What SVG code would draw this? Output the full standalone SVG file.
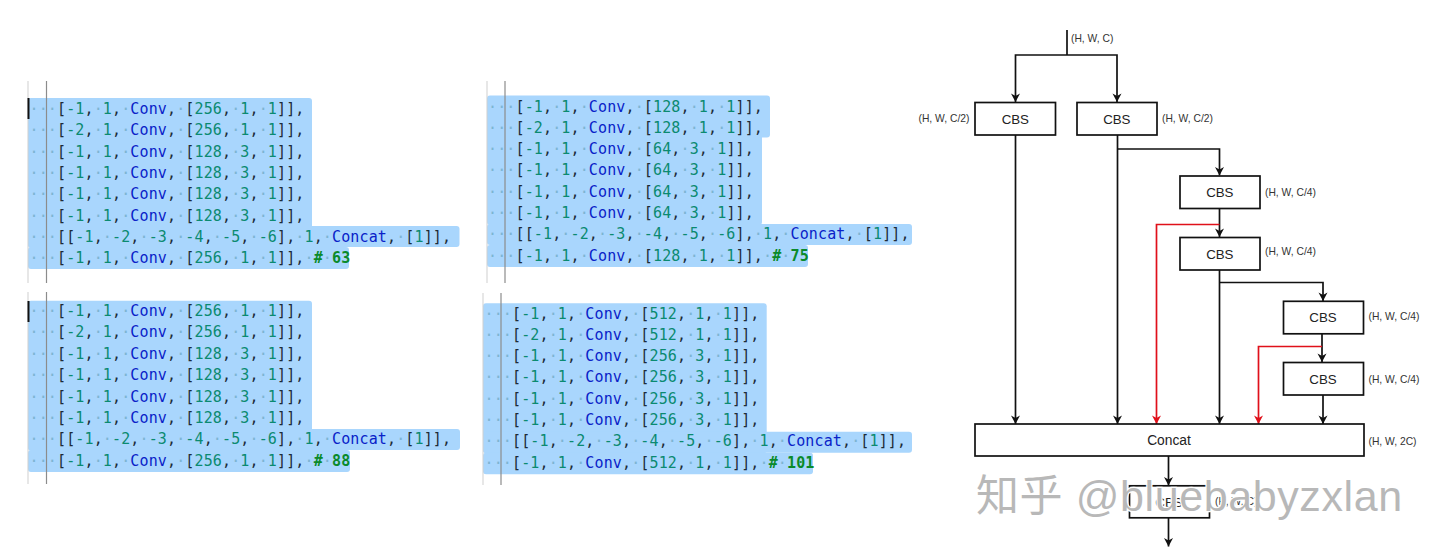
<svg xmlns="http://www.w3.org/2000/svg" width="1440" height="560" viewBox="0 0 1440 560">
<style>
.hl{fill:#a9d6fd}
.vl{stroke:#8c8c8c;stroke-width:1.2;fill:none}
.fl{stroke:#cfcfcf;stroke-width:1;fill:none}
.cur{fill:#111}
.code{font-family:"DejaVu Sans Mono","Liberation Mono",monospace;font-size:15px;letter-spacing:.13px;fill:#1d2b38}
.d{fill:#7db4d2}
.n{fill:#0b8a70}
.k{fill:#0a22c8}
.c{fill:#0a8a2a;font-weight:bold}
.box{fill:#fff;stroke:#111;stroke-width:1.7}
.w{stroke:#111;stroke-width:1.7;fill:none}
.a{marker-end:url(#ab)}
.r{stroke:#e0101a;stroke-width:1.7;fill:none}
.ra{marker-end:url(#ar)}
.t{font-family:"Liberation Sans",Arial,sans-serif;font-size:13.300px;fill:#222;text-anchor:middle}
.s{font-family:"Liberation Sans",Arial,sans-serif;font-size:10.300px;fill:#333}
.wm{font-family:"Liberation Sans","Noto Sans CJK SC",sans-serif;font-size:43px;fill:#b8b8b8;stroke:#fff;stroke-width:2.5;paint-order:stroke;letter-spacing:.6px}
</style>
<defs>
<marker id="ab" markerUnits="userSpaceOnUse" markerWidth="12" markerHeight="12" refX="9" refY="6" orient="auto"><path d="M0.500,1.500 L9,6 L0.500,10.500 L3,6 Z" fill="#111"/></marker>
<marker id="ar" markerUnits="userSpaceOnUse" markerWidth="12" markerHeight="12" refX="9" refY="6" orient="auto"><path d="M0.500,1.500 L9,6 L0.500,10.500 L3,6 Z" fill="#e0101a"/></marker>
</defs>

<g id="code-63">
<rect class="hl" x="28" y="98" width="284" height="150" rx="3"/>
<rect class="hl" x="28" y="226" width="431.500" height="21" rx="3"/>
<rect class="hl" x="28" y="247" width="321" height="22" rx="3"/>
<line class="fl" x1="28" y1="81" x2="28" y2="283"/>
<line class="vl" x1="46.500" y1="81" x2="46.500" y2="283"/>
<rect class="cur" x="27.500" y="98" width="2" height="21"/>
<text class="code" x="29.500" y="114"><tspan class="d">···</tspan>[<tspan class="n">-1</tspan>,<tspan class="d">·</tspan><tspan class="n">1</tspan>,<tspan class="d">·</tspan><tspan class="k">Conv</tspan>,<tspan class="d">·</tspan>[<tspan class="n">256</tspan>,<tspan class="d">·</tspan><tspan class="n">1</tspan>,<tspan class="d">·</tspan><tspan class="n">1</tspan>]],</text>
<text class="code" x="29.500" y="135.300"><tspan class="d">···</tspan>[<tspan class="n">-2</tspan>,<tspan class="d">·</tspan><tspan class="n">1</tspan>,<tspan class="d">·</tspan><tspan class="k">Conv</tspan>,<tspan class="d">·</tspan>[<tspan class="n">256</tspan>,<tspan class="d">·</tspan><tspan class="n">1</tspan>,<tspan class="d">·</tspan><tspan class="n">1</tspan>]],</text>
<text class="code" x="29.500" y="156.600"><tspan class="d">···</tspan>[<tspan class="n">-1</tspan>,<tspan class="d">·</tspan><tspan class="n">1</tspan>,<tspan class="d">·</tspan><tspan class="k">Conv</tspan>,<tspan class="d">·</tspan>[<tspan class="n">128</tspan>,<tspan class="d">·</tspan><tspan class="n">3</tspan>,<tspan class="d">·</tspan><tspan class="n">1</tspan>]],</text>
<text class="code" x="29.500" y="177.900"><tspan class="d">···</tspan>[<tspan class="n">-1</tspan>,<tspan class="d">·</tspan><tspan class="n">1</tspan>,<tspan class="d">·</tspan><tspan class="k">Conv</tspan>,<tspan class="d">·</tspan>[<tspan class="n">128</tspan>,<tspan class="d">·</tspan><tspan class="n">3</tspan>,<tspan class="d">·</tspan><tspan class="n">1</tspan>]],</text>
<text class="code" x="29.500" y="199.200"><tspan class="d">···</tspan>[<tspan class="n">-1</tspan>,<tspan class="d">·</tspan><tspan class="n">1</tspan>,<tspan class="d">·</tspan><tspan class="k">Conv</tspan>,<tspan class="d">·</tspan>[<tspan class="n">128</tspan>,<tspan class="d">·</tspan><tspan class="n">3</tspan>,<tspan class="d">·</tspan><tspan class="n">1</tspan>]],</text>
<text class="code" x="29.500" y="220.500"><tspan class="d">···</tspan>[<tspan class="n">-1</tspan>,<tspan class="d">·</tspan><tspan class="n">1</tspan>,<tspan class="d">·</tspan><tspan class="k">Conv</tspan>,<tspan class="d">·</tspan>[<tspan class="n">128</tspan>,<tspan class="d">·</tspan><tspan class="n">3</tspan>,<tspan class="d">·</tspan><tspan class="n">1</tspan>]],</text>
<text class="code" x="29.500" y="241.800"><tspan class="d">···</tspan>[[<tspan class="n">-1</tspan>,<tspan class="d">·</tspan><tspan class="n">-2</tspan>,<tspan class="d">·</tspan><tspan class="n">-3</tspan>,<tspan class="d">·</tspan><tspan class="n">-4</tspan>,<tspan class="d">·</tspan><tspan class="n">-5</tspan>,<tspan class="d">·</tspan><tspan class="n">-6</tspan>],<tspan class="d">·</tspan><tspan class="n">1</tspan>,<tspan class="d">·</tspan><tspan class="k">Concat</tspan>,<tspan class="d">·</tspan>[<tspan class="n">1</tspan>]],</text>
<text class="code" x="29.500" y="263.200"><tspan class="d">···</tspan>[<tspan class="n">-1</tspan>,<tspan class="d">·</tspan><tspan class="n">1</tspan>,<tspan class="d">·</tspan><tspan class="k">Conv</tspan>,<tspan class="d">·</tspan>[<tspan class="n">256</tspan>,<tspan class="d">·</tspan><tspan class="n">1</tspan>,<tspan class="d">·</tspan><tspan class="n">1</tspan>]],<tspan class="d">·</tspan><tspan class="c">#</tspan><tspan class="d">·</tspan><tspan class="c">63</tspan></text>
</g>

<g id="code-75">
<rect class="hl" x="487" y="95.500" width="283" height="42" rx="3"/>
<rect class="hl" x="487" y="130" width="275" height="95" rx="3"/>
<rect class="hl" x="487" y="224" width="425" height="21" rx="3"/>
<rect class="hl" x="487" y="245" width="321" height="22" rx="3"/>
<line class="fl" x1="487" y1="81" x2="487" y2="283"/>
<line class="vl" x1="505" y1="81" x2="505" y2="283"/>
<text class="code" x="488" y="111.500"><tspan class="d">···</tspan>[<tspan class="n">-1</tspan>,<tspan class="d">·</tspan><tspan class="n">1</tspan>,<tspan class="d">·</tspan><tspan class="k">Conv</tspan>,<tspan class="d">·</tspan>[<tspan class="n">128</tspan>,<tspan class="d">·</tspan><tspan class="n">1</tspan>,<tspan class="d">·</tspan><tspan class="n">1</tspan>]],</text>
<text class="code" x="488" y="132.800"><tspan class="d">···</tspan>[<tspan class="n">-2</tspan>,<tspan class="d">·</tspan><tspan class="n">1</tspan>,<tspan class="d">·</tspan><tspan class="k">Conv</tspan>,<tspan class="d">·</tspan>[<tspan class="n">128</tspan>,<tspan class="d">·</tspan><tspan class="n">1</tspan>,<tspan class="d">·</tspan><tspan class="n">1</tspan>]],</text>
<text class="code" x="488" y="154.100"><tspan class="d">···</tspan>[<tspan class="n">-1</tspan>,<tspan class="d">·</tspan><tspan class="n">1</tspan>,<tspan class="d">·</tspan><tspan class="k">Conv</tspan>,<tspan class="d">·</tspan>[<tspan class="n">64</tspan>,<tspan class="d">·</tspan><tspan class="n">3</tspan>,<tspan class="d">·</tspan><tspan class="n">1</tspan>]],</text>
<text class="code" x="488" y="175.400"><tspan class="d">···</tspan>[<tspan class="n">-1</tspan>,<tspan class="d">·</tspan><tspan class="n">1</tspan>,<tspan class="d">·</tspan><tspan class="k">Conv</tspan>,<tspan class="d">·</tspan>[<tspan class="n">64</tspan>,<tspan class="d">·</tspan><tspan class="n">3</tspan>,<tspan class="d">·</tspan><tspan class="n">1</tspan>]],</text>
<text class="code" x="488" y="196.700"><tspan class="d">···</tspan>[<tspan class="n">-1</tspan>,<tspan class="d">·</tspan><tspan class="n">1</tspan>,<tspan class="d">·</tspan><tspan class="k">Conv</tspan>,<tspan class="d">·</tspan>[<tspan class="n">64</tspan>,<tspan class="d">·</tspan><tspan class="n">3</tspan>,<tspan class="d">·</tspan><tspan class="n">1</tspan>]],</text>
<text class="code" x="488" y="218"><tspan class="d">···</tspan>[<tspan class="n">-1</tspan>,<tspan class="d">·</tspan><tspan class="n">1</tspan>,<tspan class="d">·</tspan><tspan class="k">Conv</tspan>,<tspan class="d">·</tspan>[<tspan class="n">64</tspan>,<tspan class="d">·</tspan><tspan class="n">3</tspan>,<tspan class="d">·</tspan><tspan class="n">1</tspan>]],</text>
<text class="code" x="488" y="239.300"><tspan class="d">···</tspan>[[<tspan class="n">-1</tspan>,<tspan class="d">·</tspan><tspan class="n">-2</tspan>,<tspan class="d">·</tspan><tspan class="n">-3</tspan>,<tspan class="d">·</tspan><tspan class="n">-4</tspan>,<tspan class="d">·</tspan><tspan class="n">-5</tspan>,<tspan class="d">·</tspan><tspan class="n">-6</tspan>],<tspan class="d">·</tspan><tspan class="n">1</tspan>,<tspan class="d">·</tspan><tspan class="k">Concat</tspan>,<tspan class="d">·</tspan>[<tspan class="n">1</tspan>]],</text>
<text class="code" x="488" y="260.700"><tspan class="d">···</tspan>[<tspan class="n">-1</tspan>,<tspan class="d">·</tspan><tspan class="n">1</tspan>,<tspan class="d">·</tspan><tspan class="k">Conv</tspan>,<tspan class="d">·</tspan>[<tspan class="n">128</tspan>,<tspan class="d">·</tspan><tspan class="n">1</tspan>,<tspan class="d">·</tspan><tspan class="n">1</tspan>]],<tspan class="d">·</tspan><tspan class="c">#</tspan><tspan class="d">·</tspan><tspan class="c">75</tspan></text>
</g>

<g id="code-88">
<rect class="hl" x="28" y="300.700" width="284" height="150" rx="3"/>
<rect class="hl" x="28" y="429" width="432" height="21" rx="3"/>
<rect class="hl" x="28" y="450" width="322" height="22" rx="3"/>
<line class="fl" x1="28" y1="292" x2="28" y2="484"/>
<line class="vl" x1="46.500" y1="292" x2="46.500" y2="484"/>
<rect class="cur" x="27.500" y="301" width="2" height="21"/>
<text class="code" x="29.500" y="316"><tspan class="d">···</tspan>[<tspan class="n">-1</tspan>,<tspan class="d">·</tspan><tspan class="n">1</tspan>,<tspan class="d">·</tspan><tspan class="k">Conv</tspan>,<tspan class="d">·</tspan>[<tspan class="n">256</tspan>,<tspan class="d">·</tspan><tspan class="n">1</tspan>,<tspan class="d">·</tspan><tspan class="n">1</tspan>]],</text>
<text class="code" x="29.500" y="337.400"><tspan class="d">···</tspan>[<tspan class="n">-2</tspan>,<tspan class="d">·</tspan><tspan class="n">1</tspan>,<tspan class="d">·</tspan><tspan class="k">Conv</tspan>,<tspan class="d">·</tspan>[<tspan class="n">256</tspan>,<tspan class="d">·</tspan><tspan class="n">1</tspan>,<tspan class="d">·</tspan><tspan class="n">1</tspan>]],</text>
<text class="code" x="29.500" y="358.800"><tspan class="d">···</tspan>[<tspan class="n">-1</tspan>,<tspan class="d">·</tspan><tspan class="n">1</tspan>,<tspan class="d">·</tspan><tspan class="k">Conv</tspan>,<tspan class="d">·</tspan>[<tspan class="n">128</tspan>,<tspan class="d">·</tspan><tspan class="n">3</tspan>,<tspan class="d">·</tspan><tspan class="n">1</tspan>]],</text>
<text class="code" x="29.500" y="380.200"><tspan class="d">···</tspan>[<tspan class="n">-1</tspan>,<tspan class="d">·</tspan><tspan class="n">1</tspan>,<tspan class="d">·</tspan><tspan class="k">Conv</tspan>,<tspan class="d">·</tspan>[<tspan class="n">128</tspan>,<tspan class="d">·</tspan><tspan class="n">3</tspan>,<tspan class="d">·</tspan><tspan class="n">1</tspan>]],</text>
<text class="code" x="29.500" y="401.600"><tspan class="d">···</tspan>[<tspan class="n">-1</tspan>,<tspan class="d">·</tspan><tspan class="n">1</tspan>,<tspan class="d">·</tspan><tspan class="k">Conv</tspan>,<tspan class="d">·</tspan>[<tspan class="n">128</tspan>,<tspan class="d">·</tspan><tspan class="n">3</tspan>,<tspan class="d">·</tspan><tspan class="n">1</tspan>]],</text>
<text class="code" x="29.500" y="423"><tspan class="d">···</tspan>[<tspan class="n">-1</tspan>,<tspan class="d">·</tspan><tspan class="n">1</tspan>,<tspan class="d">·</tspan><tspan class="k">Conv</tspan>,<tspan class="d">·</tspan>[<tspan class="n">128</tspan>,<tspan class="d">·</tspan><tspan class="n">3</tspan>,<tspan class="d">·</tspan><tspan class="n">1</tspan>]],</text>
<text class="code" x="29.500" y="444.400"><tspan class="d">···</tspan>[[<tspan class="n">-1</tspan>,<tspan class="d">·</tspan><tspan class="n">-2</tspan>,<tspan class="d">·</tspan><tspan class="n">-3</tspan>,<tspan class="d">·</tspan><tspan class="n">-4</tspan>,<tspan class="d">·</tspan><tspan class="n">-5</tspan>,<tspan class="d">·</tspan><tspan class="n">-6</tspan>],<tspan class="d">·</tspan><tspan class="n">1</tspan>,<tspan class="d">·</tspan><tspan class="k">Concat</tspan>,<tspan class="d">·</tspan>[<tspan class="n">1</tspan>]],</text>
<text class="code" x="29.500" y="465.800"><tspan class="d">···</tspan>[<tspan class="n">-1</tspan>,<tspan class="d">·</tspan><tspan class="n">1</tspan>,<tspan class="d">·</tspan><tspan class="k">Conv</tspan>,<tspan class="d">·</tspan>[<tspan class="n">256</tspan>,<tspan class="d">·</tspan><tspan class="n">1</tspan>,<tspan class="d">·</tspan><tspan class="n">1</tspan>]],<tspan class="d">·</tspan><tspan class="c">#</tspan><tspan class="d">·</tspan><tspan class="c">88</tspan></text>
</g>

<g id="code-101">
<rect class="hl" x="483" y="303.300" width="283.700" height="150" rx="3"/>
<rect class="hl" x="483" y="431.700" width="429" height="21" rx="3"/>
<rect class="hl" x="483" y="452.700" width="330" height="21.500" rx="3"/>
<line class="fl" x1="483" y1="293" x2="483" y2="485"/>
<line class="vl" x1="501" y1="293" x2="501" y2="485"/>
<text class="code" x="484.500" y="318.500"><tspan class="d">···</tspan>[<tspan class="n">-1</tspan>,<tspan class="d">·</tspan><tspan class="n">1</tspan>,<tspan class="d">·</tspan><tspan class="k">Conv</tspan>,<tspan class="d">·</tspan>[<tspan class="n">512</tspan>,<tspan class="d">·</tspan><tspan class="n">1</tspan>,<tspan class="d">·</tspan><tspan class="n">1</tspan>]],</text>
<text class="code" x="484.500" y="339.800"><tspan class="d">···</tspan>[<tspan class="n">-2</tspan>,<tspan class="d">·</tspan><tspan class="n">1</tspan>,<tspan class="d">·</tspan><tspan class="k">Conv</tspan>,<tspan class="d">·</tspan>[<tspan class="n">512</tspan>,<tspan class="d">·</tspan><tspan class="n">1</tspan>,<tspan class="d">·</tspan><tspan class="n">1</tspan>]],</text>
<text class="code" x="484.500" y="361.100"><tspan class="d">···</tspan>[<tspan class="n">-1</tspan>,<tspan class="d">·</tspan><tspan class="n">1</tspan>,<tspan class="d">·</tspan><tspan class="k">Conv</tspan>,<tspan class="d">·</tspan>[<tspan class="n">256</tspan>,<tspan class="d">·</tspan><tspan class="n">3</tspan>,<tspan class="d">·</tspan><tspan class="n">1</tspan>]],</text>
<text class="code" x="484.500" y="382.400"><tspan class="d">···</tspan>[<tspan class="n">-1</tspan>,<tspan class="d">·</tspan><tspan class="n">1</tspan>,<tspan class="d">·</tspan><tspan class="k">Conv</tspan>,<tspan class="d">·</tspan>[<tspan class="n">256</tspan>,<tspan class="d">·</tspan><tspan class="n">3</tspan>,<tspan class="d">·</tspan><tspan class="n">1</tspan>]],</text>
<text class="code" x="484.500" y="403.700"><tspan class="d">···</tspan>[<tspan class="n">-1</tspan>,<tspan class="d">·</tspan><tspan class="n">1</tspan>,<tspan class="d">·</tspan><tspan class="k">Conv</tspan>,<tspan class="d">·</tspan>[<tspan class="n">256</tspan>,<tspan class="d">·</tspan><tspan class="n">3</tspan>,<tspan class="d">·</tspan><tspan class="n">1</tspan>]],</text>
<text class="code" x="484.500" y="425"><tspan class="d">···</tspan>[<tspan class="n">-1</tspan>,<tspan class="d">·</tspan><tspan class="n">1</tspan>,<tspan class="d">·</tspan><tspan class="k">Conv</tspan>,<tspan class="d">·</tspan>[<tspan class="n">256</tspan>,<tspan class="d">·</tspan><tspan class="n">3</tspan>,<tspan class="d">·</tspan><tspan class="n">1</tspan>]],</text>
<text class="code" x="484.500" y="446.300"><tspan class="d">···</tspan>[[<tspan class="n">-1</tspan>,<tspan class="d">·</tspan><tspan class="n">-2</tspan>,<tspan class="d">·</tspan><tspan class="n">-3</tspan>,<tspan class="d">·</tspan><tspan class="n">-4</tspan>,<tspan class="d">·</tspan><tspan class="n">-5</tspan>,<tspan class="d">·</tspan><tspan class="n">-6</tspan>],<tspan class="d">·</tspan><tspan class="n">1</tspan>,<tspan class="d">·</tspan><tspan class="k">Concat</tspan>,<tspan class="d">·</tspan>[<tspan class="n">1</tspan>]],</text>
<text class="code" x="484.500" y="467.700"><tspan class="d">···</tspan>[<tspan class="n">-1</tspan>,<tspan class="d">·</tspan><tspan class="n">1</tspan>,<tspan class="d">·</tspan><tspan class="k">Conv</tspan>,<tspan class="d">·</tspan>[<tspan class="n">512</tspan>,<tspan class="d">·</tspan><tspan class="n">1</tspan>,<tspan class="d">·</tspan><tspan class="n">1</tspan>]],<tspan class="d">·</tspan><tspan class="c">#</tspan><tspan class="d">·</tspan><tspan class="c">101</tspan></text>
</g>

<g id="connectors">
<path class="w" d="M1067,30 V55"/>
<path class="w a" d="M1067,55 H1015.500 V102"/>
<path class="w a" d="M1067,55 H1117 V102"/>
<path class="w a" d="M1015.500,135 V424"/>
<path class="w a" d="M1117.500,135 V424"/>
<path class="w a" d="M1117.500,149 H1219.500 V175.500"/>
<path class="w a" d="M1219.500,208.500 V237"/>
<path class="r ra" d="M1219.500,224.500 H1156.500 V424"/>
<path class="w a" d="M1219.500,270 V424"/>
<path class="w a" d="M1219.500,282.500 H1323 V301"/>
<path class="w a" d="M1322,333.500 V362"/>
<path class="r ra" d="M1322,346.500 H1258.500 V424"/>
<path class="w a" d="M1323,395 V424"/>
<path class="w a" d="M1168.500,456 V485.500"/>
<path class="w a" d="M1168.500,517.500 V546.500"/>
</g>

<g id="input-label"><text class="s" x="1071" y="41.500">(H, W, C)</text></g>
<g id="cbs-1"><rect class="box" x="975" y="102.500" width="80.500" height="32.500"/><text class="t" x="1015.300" y="123.500">CBS</text><text class="s" x="918.500" y="121.500">(H, W, C/2)</text></g>
<g id="cbs-2"><rect class="box" x="1077" y="102.500" width="80" height="32.500"/><text class="t" x="1116.800" y="123.500">CBS</text><text class="s" x="1162" y="121.500">(H, W, C/2)</text></g>
<g id="cbs-3"><rect class="box" x="1180" y="176" width="80" height="32.500"/><text class="t" x="1219.800" y="197">CBS</text><text class="s" x="1265" y="196">(H, W, C/4)</text></g>
<g id="cbs-4"><rect class="box" x="1180" y="237.500" width="80" height="32.500"/><text class="t" x="1219.800" y="258.500">CBS</text><text class="s" x="1265" y="254.500">(H, W, C/4)</text></g>
<g id="cbs-5"><rect class="box" x="1283.500" y="301.300" width="80" height="32.500"/><text class="t" x="1323" y="322.300">CBS</text><text class="s" x="1368.500" y="320">(H, W, C/4)</text></g>
<g id="cbs-6"><rect class="box" x="1283.500" y="362.500" width="80" height="32.500"/><text class="t" x="1323" y="383.500">CBS</text><text class="s" x="1368.500" y="382.500">(H, W, C/4)</text></g>
<g id="concat"><rect class="box" x="975" y="424" width="389" height="32"/><text class="t" style="font-size:13.800px" x="1169" y="445">Concat</text><text class="s" x="1368.500" y="444.500">(H, W, 2C)</text></g>
<g id="cbs-7"><rect class="box" x="1129.500" y="485.800" width="80" height="32"/><text class="t" x="1169" y="507">CBS</text><text class="s" x="1215" y="505">(H, W, C)</text></g>

<g id="watermark"><text class="wm" x="976" y="511">知乎 @bluebabyzxlan</text></g>
</svg>
